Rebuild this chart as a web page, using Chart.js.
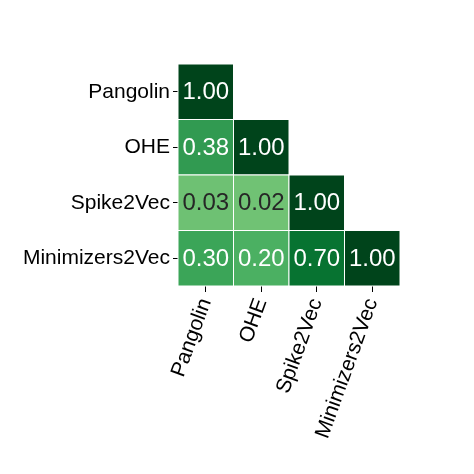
<!DOCTYPE html>
<html><head><script src="https://cdn.jsdelivr.net/npm/chart.js"></script>
<style>html,body{margin:0;background:#fff}</style></head><body>
<canvas id="c" width="474" height="474"></canvas>
<script>
const labels=['Pangolin','OHE','Spike2Vec','Minimizers2Vec'];
const row0=[1.00];
const row1=[0.38,1.00];
const row2=[0.03,0.02,1.00];
const row3=[0.30,0.20,0.70,1.00];
const rows=[row0,row1,row2,row3];
const stops=['#f7fcf5','#e5f5e0','#c7e9c0','#a1d99b','#74c476','#41ab5d','#238b45','#006d2c','#00441b'];
function hex(h){return [1,3,5].map(i=>parseInt(h.substr(i,2),16));}
function cmap(v){let t=Math.min(1,Math.max(0,(v+1)/2))*(stops.length-1);let i=Math.min(stops.length-2,Math.floor(t));let f=t-i;let a=hex(stops[i]),b=hex(stops[i+1]);return 'rgb('+a.map((x,k)=>Math.round(x+(b[k]-x)*f)).join(',')+')';}
const pts=[];rows.forEach((r,i)=>r.forEach((v,j)=>pts.push({x:labels[j],y:labels[i],v})));
const cells={id:'cells',afterDatasetsDraw(ch){const ctx=ch.ctx,xs=ch.scales.x,ys=ch.scales.y;
const w=(xs.right-xs.left)/labels.length,h=(ys.bottom-ys.top)/labels.length;
ctx.save();pts.forEach(p=>{const cx=xs.getPixelForValue(labels.indexOf(p.x)),cy=ys.getPixelForValue(labels.indexOf(p.y));
ctx.fillStyle=cmap(p.v);ctx.fillRect(cx-w/2,cy-h/2,w,h);ctx.strokeStyle='#fff';ctx.lineWidth=1;ctx.strokeRect(cx-w/2,cy-h/2,w,h);
ctx.fillStyle=p.v>0.1?'#fff':'#262626';ctx.font='24px "Liberation Sans"';ctx.textAlign='center';ctx.textBaseline='middle';ctx.fillText(p.v.toFixed(2),cx,cy+1);});
ctx.restore();}};
new Chart(document.getElementById('c'),{type:'scatter',data:{datasets:[{data:pts,pointRadius:0}]},
plugins:[cells],
options:{responsive:false,animation:false,layout:{padding:{top:64,right:74,left:0,bottom:0}},
plugins:{legend:{display:false},tooltip:{enabled:false}},
scales:{x:{type:'category',labels:labels,offset:true,border:{display:false},grid:{drawOnChartArea:false,drawTicks:true,tickLength:6,color:'#000'},
ticks:{color:'#000',font:{family:'Liberation Sans',size:21},maxRotation:70,minRotation:70,autoSkip:false},afterFit:s=>{s.height=188;}},
y:{type:'category',labels:labels,offset:true,border:{display:false},grid:{drawOnChartArea:false,drawTicks:true,tickLength:5,color:'#000'},
ticks:{color:'#000',font:{family:'Liberation Sans',size:21},autoSkip:false},afterFit:s=>{s.width=178;}}}}});
</script></body></html>
